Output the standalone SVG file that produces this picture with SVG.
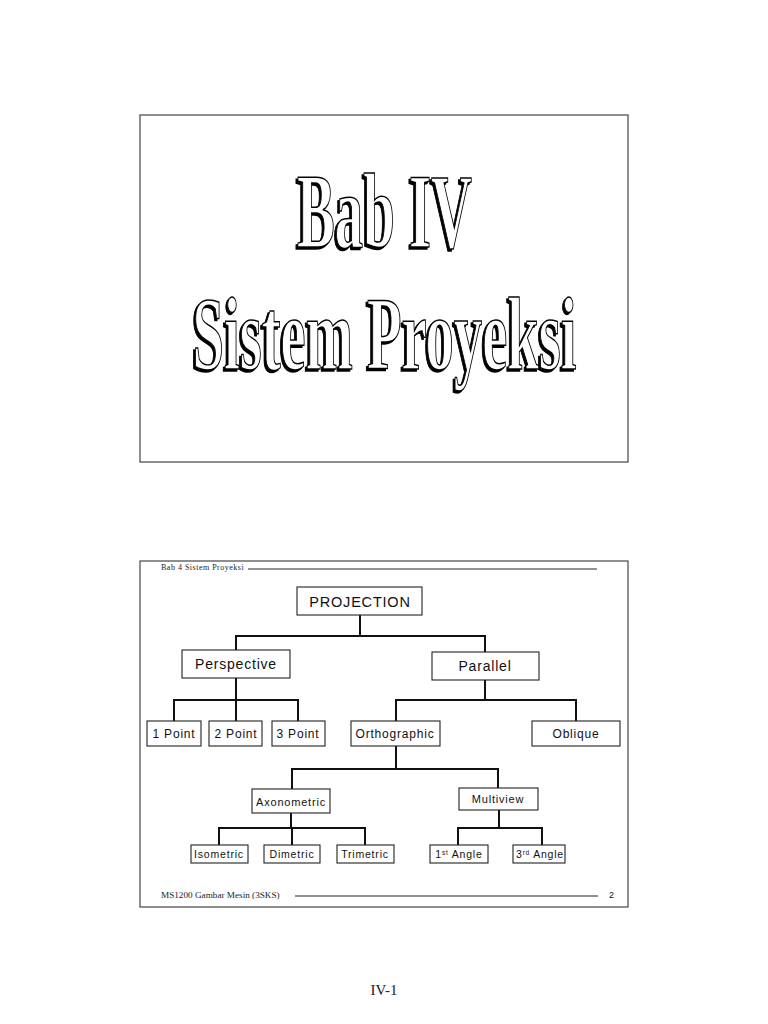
<svg xmlns="http://www.w3.org/2000/svg" width="768" height="1024" viewBox="0 0 768 1024">
<style>
.frame{fill:#fff;stroke:#444;stroke-width:1.2}
.box{fill:#fff;stroke:#222;stroke-width:1.1}
.lbl{font-family:"Liberation Sans",Arial,sans-serif;fill:#111;text-anchor:middle;letter-spacing:0.8px}
.conn{fill:none;stroke:#111;stroke-width:2}
.title{font-family:"Liberation Serif","Times New Roman",serif;font-weight:bold;text-anchor:middle;fill:#fff;stroke:#000;stroke-width:1.2;vector-effect:non-scaling-stroke}
.small{font-family:"Liberation Serif","Times New Roman",serif;fill:#222}
</style>
<defs>
<filter id="shadow" filterUnits="userSpaceOnUse" x="150" y="130" width="470" height="320">
<feOffset in="SourceAlpha" dx="-2" dy="2" result="off"/>
<feMerge><feMergeNode in="off"/><feMergeNode in="SourceGraphic"/></feMerge>
</filter>
</defs>
<rect width="768" height="1024" fill="#fff"/>
<g id="slide1">
<rect class="frame" x="140" y="115" width="488" height="347"/>
<g filter="url(#shadow)">
<text class="title" transform="translate(384.5 247) scale(0.535 1)" x="0" y="0" font-size="106">Bab IV</text>
<text class="title" transform="translate(384.5 369) scale(0.544 1)" x="0" y="0" font-size="104">Sistem Proyeksi</text>
</g>
</g>
<g id="slide2">
<rect class="frame" x="140" y="561" width="488" height="346"/>
<text class="small" x="161" y="570" font-size="8" letter-spacing="0.5">Bab 4 Sistem Proyeksi</text>
<line x1="248" y1="569" x2="597" y2="569" stroke="#222" stroke-width="1"/>
<text class="small" x="161" y="898" font-size="9.2">MS1200 Gambar Mesin (3SKS)</text>
<line x1="295" y1="896" x2="598" y2="896" stroke="#222" stroke-width="1"/>
<text class="lbl" x="612" y="898" font-size="9">2</text>
</g>
<g id="connectors">
<path class="conn" d="M360 615V636M236 650V636H485V652"/>
<path class="conn" d="M236 678V700M174 721V700H298V721M236 700V721"/>
<path class="conn" d="M485 680V700M396 721V700H576V721"/>
<path class="conn" d="M396 746V769M292 789V769H498V788"/>
<path class="conn" d="M291 813V828M219 845V828H365V845M292 828V845"/>
<path class="conn" d="M499 810V828M458 845V828H542V845"/>
</g>
<g id="projection"><rect class="box" x="297" y="587" width="125" height="28"/><text class="lbl" x="360" y="607" font-size="14.5">PROJECTION</text></g>
<g id="perspective"><rect class="box" x="182" y="650" width="108" height="28"/><text class="lbl" x="236" y="669" font-size="14">Perspective</text></g>
<g id="parallel"><rect class="box" x="432" y="652" width="107" height="28"/><text class="lbl" x="485" y="671" font-size="14">Parallel</text></g>
<g id="point1"><rect class="box" x="147" y="721" width="54" height="25"/><text class="lbl" x="174" y="738" font-size="12">1 Point</text></g>
<g id="point2"><rect class="box" x="209" y="721" width="53" height="25"/><text class="lbl" x="236" y="738" font-size="12">2 Point</text></g>
<g id="point3"><rect class="box" x="272" y="721" width="53" height="25"/><text class="lbl" x="298" y="738" font-size="12">3 Point</text></g>
<g id="orthographic"><rect class="box" x="351" y="721" width="89" height="25"/><text class="lbl" x="395" y="738" font-size="12">Orthographic</text></g>
<g id="oblique"><rect class="box" x="532" y="721" width="88" height="25"/><text class="lbl" x="576" y="738" font-size="12">Oblique</text></g>
<g id="axonometric"><rect class="box" x="252" y="789" width="78" height="24"/><text class="lbl" x="291" y="806" font-size="11">Axonometric</text></g>
<g id="multiview"><rect class="box" x="459" y="788" width="79" height="22"/><text class="lbl" x="498" y="803" font-size="11">Multiview</text></g>
<g id="isometric"><rect class="box" x="191" y="845" width="57" height="18"/><text class="lbl" x="219" y="858" font-size="10.5">Isometric</text></g>
<g id="dimetric"><rect class="box" x="264" y="845" width="56" height="18"/><text class="lbl" x="292" y="858" font-size="10.5">Dimetric</text></g>
<g id="trimetric"><rect class="box" x="337" y="845" width="57" height="18"/><text class="lbl" x="365" y="858" font-size="10.5">Trimetric</text></g>
<g id="angle1"><rect class="box" x="430" y="845" width="58" height="18"/><text class="lbl" x="459" y="858" font-size="10.5">1<tspan font-size="6.5" dy="-3.5">st</tspan><tspan dy="3.5"> Angle</tspan></text></g>
<g id="angle3"><rect class="box" x="513" y="845" width="52" height="18"/><text class="lbl" x="540" y="858" font-size="10.5">3<tspan font-size="6.5" dy="-3.5">rd</tspan><tspan dy="3.5"> Angle</tspan></text></g>
<text class="small" x="384" y="995" font-size="15" text-anchor="middle">IV-1</text>
</svg>
